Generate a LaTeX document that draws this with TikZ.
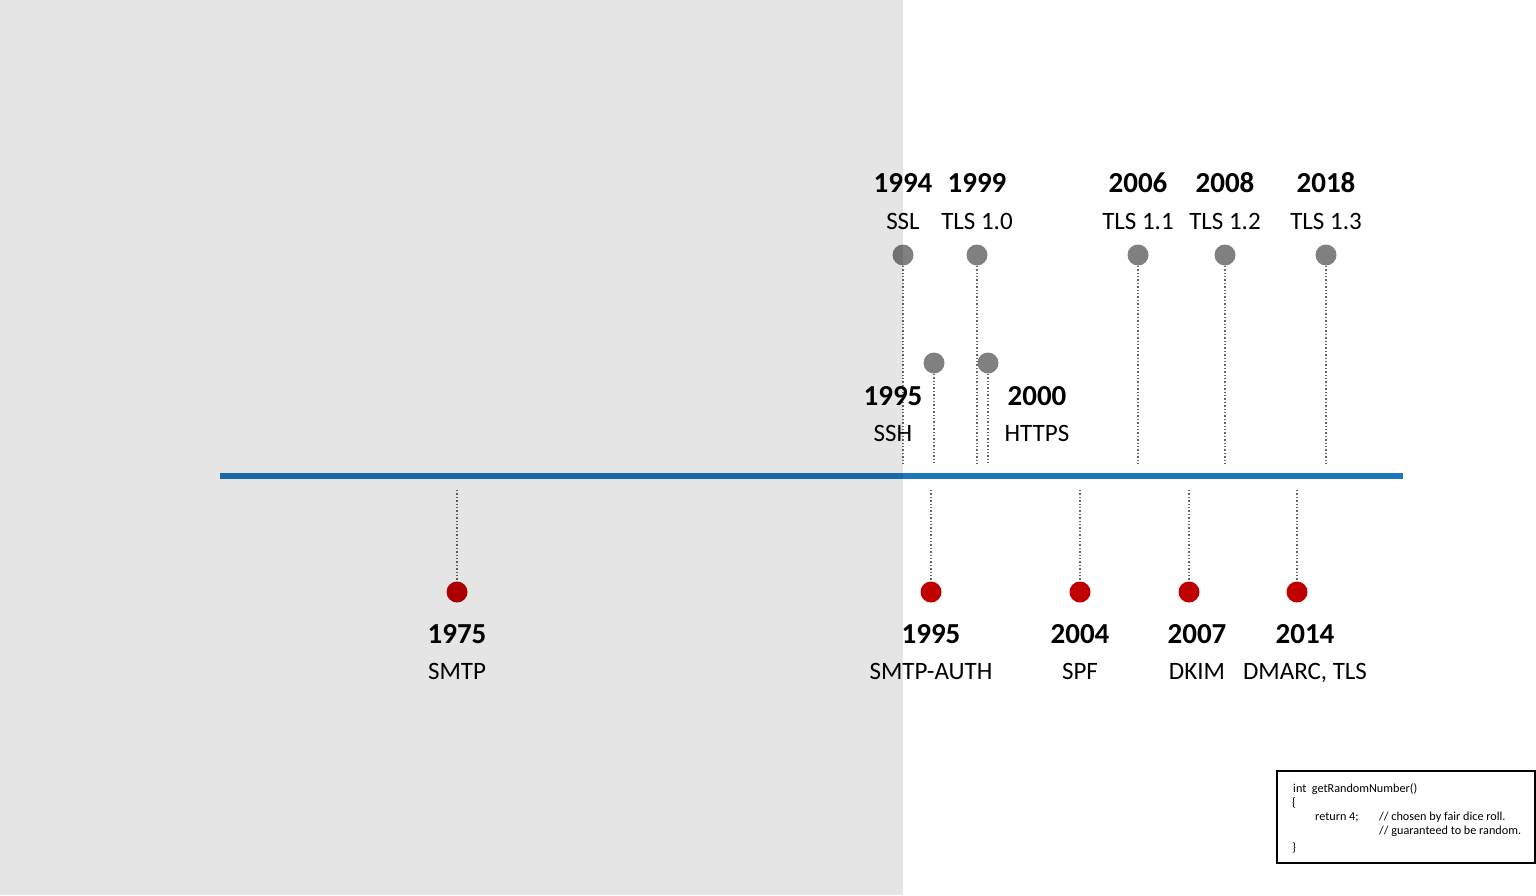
\documentclass[tikz,border=0pt]{standalone}
\usepackage{fontspec}
\setmainfont{Carlito}
\usepackage{tikz}
\definecolor{axisblue}{RGB}{30,118,186}
\definecolor{dotgray}{RGB}{128,128,128}
\definecolor{dotred}{RGB}{192,0,0}

\begin{document}
\begin{tikzpicture}[x=1pt, y=-1pt,
	yearlbl/.style={font=\fontsize{29}{30}\selectfont\bfseries, inner sep=0pt, text height=19pt, text depth=0pt},
	namelbl/.style={font=\fontsize{25}{26}\selectfont, inner sep=0pt, text height=17pt, text depth=0pt},
	topdot/.style={circle, fill=dotgray, minimum size=21pt, inner sep=0pt},
	reddot/.style={circle, fill=dotred, minimum size=21pt, inner sep=0pt},
	stem/.style={dotgray!80!black, line width=1.4pt, dash pattern=on 1.4pt off 2pt},
	codetxt/.style={font=\fontsize{12.2}{13}\selectfont, anchor=base west, inner sep=0pt}]
	\useasboundingbox (0,0) rectangle (1536,895);
	% timeline axis
	\coordinate (ax-l) at (220,476);
	\coordinate (ax-r) at (1403,476);
	\draw[axisblue, line width=6pt] (ax-l) -- (ax-r);
	% upper row
	\foreach \x/\yr/\nm/\n in {903/1994/SSL/ssl, 977/1999/TLS 1.0/tlsa, 1138/2006/TLS 1.1/tlsb, 1225/2008/TLS 1.2/tlsc, 1326/2018/TLS 1.3/tlsd} {
		\node[topdot] (\n) at (\x,255) {};
		\node[yearlbl] (\n-yr) at (\x,183) {\yr};
		\node[namelbl] (\n-nm) at (\x,221) {\nm};
		\coordinate (\n-a) at (\x,463);
		\draw[stem] (\n.south) -- (\n-a);
	}
	% middle row
	\foreach \x/\lx/\yr/\nm/\n in {934/893/1995/SSH/ssh, 988/1037/2000/HTTPS/https} {
		\node[topdot] (\n) at (\x,363) {};
		\node[yearlbl] (\n-yr) at (\lx,396) {\yr};
		\node[namelbl] (\n-nm) at (\lx,433) {\nm};
		\coordinate (\n-a) at (\x,463);
		\draw[stem] (\n.south) -- (\n-a);
	}
	% lower row
	\foreach \x/\lx/\yr/\nm/\n in {457/457/1975/SMTP/smtp, 931/931/1995/SMTP-AUTH/auth, 1080/1080/2004/SPF/spf, 1189/1197/2007/DKIM/dkim, 1297/1305/2014/{DMARC, TLS}/dmarc} {
		\node[reddot] (\n) at (\x,592) {};
		\node[yearlbl] (\n-yr) at (\lx,634) {\yr};
		\node[namelbl] (\n-nm) at (\lx,671) {\nm};
		\coordinate (\n-a) at (\x,490);
		\draw[stem] (\n-a) -- (\n.north);
	}
	% code box
	\node[draw, line width=1.2pt, minimum width=258pt, minimum height=92pt, inner sep=0pt] (code) at (1406,817) {};
	\node[codetxt] (c1) at (1293,792) {int\ \ getRandomNumber()};
	\node[codetxt] (c2) at (1292,806) {\{};
	\node[codetxt] (c3) at (1315,820) {return 4;};
	\node[codetxt] (c4) at (1379,820) {// chosen by fair dice roll.};
	\node[codetxt] (c5) at (1379,834) {// guaranteed to be random.};
	\node[codetxt] (c6) at (1292,851) {\}};
	% shaded era
	\fill[black, opacity=0.1] (0,0) rectangle (903,895);
\end{tikzpicture}
\end{document}
